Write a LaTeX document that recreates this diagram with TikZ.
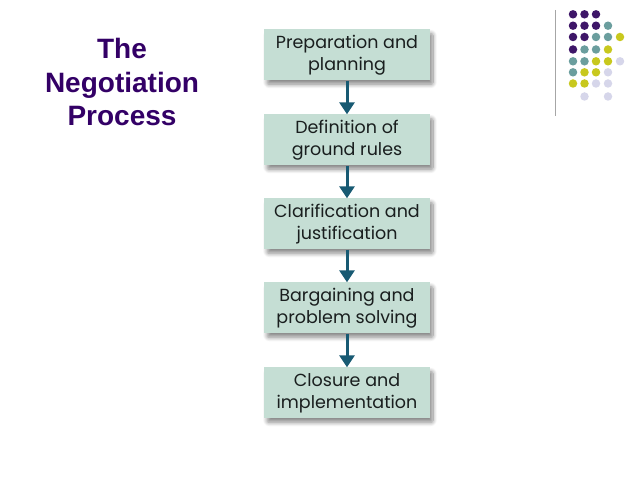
\documentclass[tikz,border=0pt]{standalone}
\usepackage{fontspec}
\setmainfont{Liberation Sans}
\newfontfamily\boxfont{Poppins}
\usetikzlibrary{arrows.meta,shadows.blur}
\definecolor{boxfill}{RGB}{197,222,212}
\definecolor{arrowcol}{RGB}{24,90,115}
\definecolor{titlecol}{RGB}{51,0,102}
\definecolor{boxtext}{RGB}{25,30,30}
\definecolor{dotP}{RGB}{62,22,104}
\definecolor{dotT}{RGB}{107,158,158}
\definecolor{dotY}{RGB}{200,200,30}
\definecolor{dotL}{RGB}{214,214,234}
\tikzset{
  stepbox/.style={draw=none, fill=boxfill, minimum width=166pt, minimum height=51pt,
    inner sep=0pt, align=center, text=boxtext, font=\boxfont\fontsize{17.5}{22}\selectfont,
    blur shadow={shadow xshift=3pt, shadow yshift=-4pt, shadow blur steps=10, shadow blur radius=4pt, shadow blur extra rounding=2pt, shadow opacity=45}},
  flowarrow/.style={draw=arrowcol, line width=3pt, -{Triangle[length=12pt,width=15pt]}},
  dot/.style={circle, inner sep=0pt, minimum size=8.5pt},
}
\begin{document}
\begin{tikzpicture}[x=1pt,y=-1pt]
\useasboundingbox (0,0) rectangle (638,478);
\node[text=titlecol, font=\bfseries\fontsize{28}{33.5}\selectfont, align=center] (title) at (122,82) {The\\Negotiation\\Process};
\node[stepbox] (s1) at (347,55) {Preparation and\\planning};
\node[stepbox] (s2) at (347,140) {Definition of\\ground rules};
\node[stepbox] (s3) at (347,224) {Clarification and\\justification};
\node[stepbox] (s4) at (347,308) {Bargaining and\\problem solving};
\node[stepbox] (s5) at (347,393) {Closure and\\implementation};
\draw[flowarrow] (s1.south) -- (s2.north);
\draw[flowarrow] (s2.south) -- (s3.north);
\draw[flowarrow] (s3.south) -- (s4.north);
\draw[flowarrow] (s4.south) -- (s5.north);
\coordinate (lt) at (555,10);
\coordinate (lb) at (555,116);
\draw[gray!70, line width=0.8pt] (lt) -- (lb);
\foreach \r/\y in {0/14.3,1/25.7,2/37,3/49.5,4/61.3,5/72.3,6/83.5,7/96.5}{
  \foreach \c/\x in {0/573,1/584.5,2/596,3/608,4/620}{
    \coordinate (g\r\c) at (\x,\y);
  }
}
\foreach \p in {00,01,02,10,11,12,20,21,30}{\node[dot,fill=dotP] (dP\p) at (g\p) {};}
\foreach \p in {13,22,23,31,32,40,41,50}{\node[dot,fill=dotT] (dT\p) at (g\p) {};}
\foreach \p in {24,33,42,43,51,52,60,61}{\node[dot,fill=dotY] (dY\p) at (g\p) {};}
\foreach \p in {44,53,62,63,71,73}{\node[dot,fill=dotL] (dL\p) at (g\p) {};}
\end{tikzpicture}
\end{document}
